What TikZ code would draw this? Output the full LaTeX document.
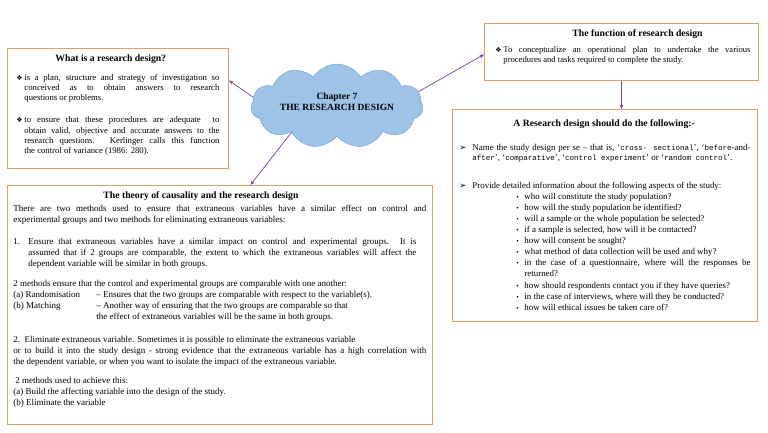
\documentclass[tikz,border=0pt]{standalone}
\usepackage{fontspec}
\setmainfont{Liberation Serif}
\newfontfamily\symfont{DejaVu Sans}
\newfontfamily\twfont{Liberation Mono}
\usetikzlibrary{arrows.meta,shapes.symbols}

\definecolor{boxorange}{RGB}{235,155,100}
\definecolor{arrpurple}{RGB}{120,60,175}
\definecolor{cloudblue}{RGB}{157,195,230}
\definecolor{cloudline}{RGB}{105,155,210}

\newcommand{\tw}[1]{{\twfont\fontsize{7.5}{9}\selectfont #1}}
\newcommand{\ttl}[1]{{\fontsize{9.7}{11}\selectfont\bfseries #1}}
\newcommand{\diabul}{\makebox[8pt][l]{\symfont\fontsize{7}{8}\selectfont ❖}}
\newcommand{\arrbul}{\makebox[13pt][l]{\symfont\fontsize{8.5}{9}\selectfont ➢}}
\newcommand{\dotbul}{\hangindent=8pt\hangafter=1\noindent\makebox[8pt][l]{\fontsize{7}{7}\selectfont •}}

\begin{document}
\begin{tikzpicture}[
  x=1pt, y=-1pt,
  box/.style={draw=boxorange, line width=0.9pt, anchor=north west, inner ysep=4pt},
  arr/.style={-{Stealth[length=4.5pt,width=3.6pt]}, draw=arrpurple, line width=0.7pt}
]
\useasboundingbox (0,0) rectangle (768,433);

\node[cloud, cloud puffs=11, cloud puff arc=115, cloud ignores aspect,
  minimum width=172pt, minimum height=84pt, fill=cloudblue, draw=cloudline,
  align=center, text depth=9pt, font=\fontsize{9.5}{11.5}\selectfont\bfseries] (chap) at (337,106)
  {Chapter 7\\THE RESEARCH DESIGN};

\node[box, inner xsep=9pt] (what) at (7,48) {\parbox[t][112pt][t]{203pt}{\fontsize{8.7}{10.4}\selectfont
\vspace*{2.5pt}\hspace*{39pt}\ttl{What is a research design?}\par\vspace{8pt}
\hangindent=8pt\hangafter=1\noindent\diabul is a plan, structure and strategy of investigation so\linebreak conceived as to obtain answers to research\linebreak questions or problems.\par\vspace{11.5pt}
\hangindent=8pt\hangafter=1\noindent\diabul to ensure that these procedures are adequate\ \ to\linebreak obtain valid, objective and accurate answers to the\linebreak research questions. Kerlinger calls this function\linebreak the control of variance (1986: 280).}};

\node[box, inner xsep=8pt] (func) at (484,23) {\parbox[t][49pt][t]{258pt}{\fontsize{8.6}{10.8}\selectfont
\vspace*{2pt}\hspace*{80pt}\ttl{The function of research design}\par\vspace{5pt}
\hangindent=11pt\hangafter=1\noindent\hspace*{3pt}\diabul To conceptualize an operational plan to undertake the various\linebreak procedures and tasks required to complete the study.}};

\node[box, inner xsep=7pt] (should) at (452,109) {\parbox[t][204pt][t]{291pt}{\fontsize{8.9}{10.8}\selectfont
\vspace*{6pt}\hspace*{54pt}\ttl{A Research design should do the following:-}\par\vspace{13pt}
\hangindent=13pt\hangafter=1\noindent\arrbul Name the study design per se -- that is, ‘\tw{cross- sectional}’, ‘\tw{before}-and-\linebreak \tw{after}’, ‘\tw{comparative}’, ‘\tw{control experiment}’ or ‘\tw{random control}’.\par\vspace{16.5pt}
\hangindent=13pt\hangafter=1\noindent\arrbul Provide detailed information about the following aspects of the study:\par
{\leftskip=57pt \baselineskip=11.1pt
\dotbul who will constitute the study population?\par
\dotbul how will the study population be identified?\par
\dotbul will a sample or the whole population be selected?\par
\dotbul if a sample is selected, how will it be contacted?\par
\dotbul how will consent be sought?\par
\dotbul what method of data collection will be used and why?\par
\dotbul in the case of a questionnaire, where will the responses be\linebreak \mbox{returned?}\par
\dotbul how should respondents contact you if they have queries?\par
\dotbul in the case of interviews, where will they be conducted?\par
\dotbul how will ethical issues be taken care of?\par}}};

\node[box, inner xsep=6pt] (theory) at (7,185) {\parbox[t][231pt][t]{413pt}{\fontsize{9}{11}\selectfont
\vspace*{2.5pt}\hspace*{90pt}\ttl{The theory of causality and the research design}\par\vspace{2pt}
There are two methods used to ensure that extraneous variables have a similar effect on control and\linebreak experimental groups and two methods for eliminating extraneous variables:\par\vspace{11pt}
{\rightskip=10pt\hangindent=15pt\hangafter=1\noindent\makebox[15pt][l]{1.}Ensure that extraneous variables have a similar impact on control and experimental groups. It is\linebreak assumed that if 2 groups are comparable, the extent to which the extraneous variables will affect the\linebreak dependent variable will be similar in both groups.\par}\vspace{9pt}
2 methods ensure that the control and experimental groups are comparable with one another:\\
\makebox[83pt][l]{(a) Randomisation}-- Ensures that the two groups are comparable with respect to the variable(s).\par
\hangindent=83pt\hangafter=1\noindent\makebox[83pt][l]{(b) Matching}-- Another way of ensuring that the two groups are comparable so that\\ the effect of extraneous variables will be the same in both groups.\par\vspace{12pt}
2.\ \ Eliminate extraneous variable. Sometimes it is possible to eliminate the extraneous variable\\ or to build it into the study design - strong evidence that the extraneous variable has a high correlation with\linebreak the dependent variable, or when you want to isolate the impact of the extraneous variable.\par\vspace{8pt}
\hspace*{2pt}2 methods used to achieve this:\\
(a)\ Build the affecting variable into the design of the study.\\
(b) Eliminate the variable}};

\draw[arr] (chap.174) -- ([yshift=28pt]what.east);
\draw[arr] (chap.10) -- ([yshift=-2.5pt]func.west);
\draw[arr] (func.south) -- (func.south |- should.north);
\draw[arr] (chap.210) -- ([xshift=30.5pt]theory.north);
\end{tikzpicture}
\end{document}
